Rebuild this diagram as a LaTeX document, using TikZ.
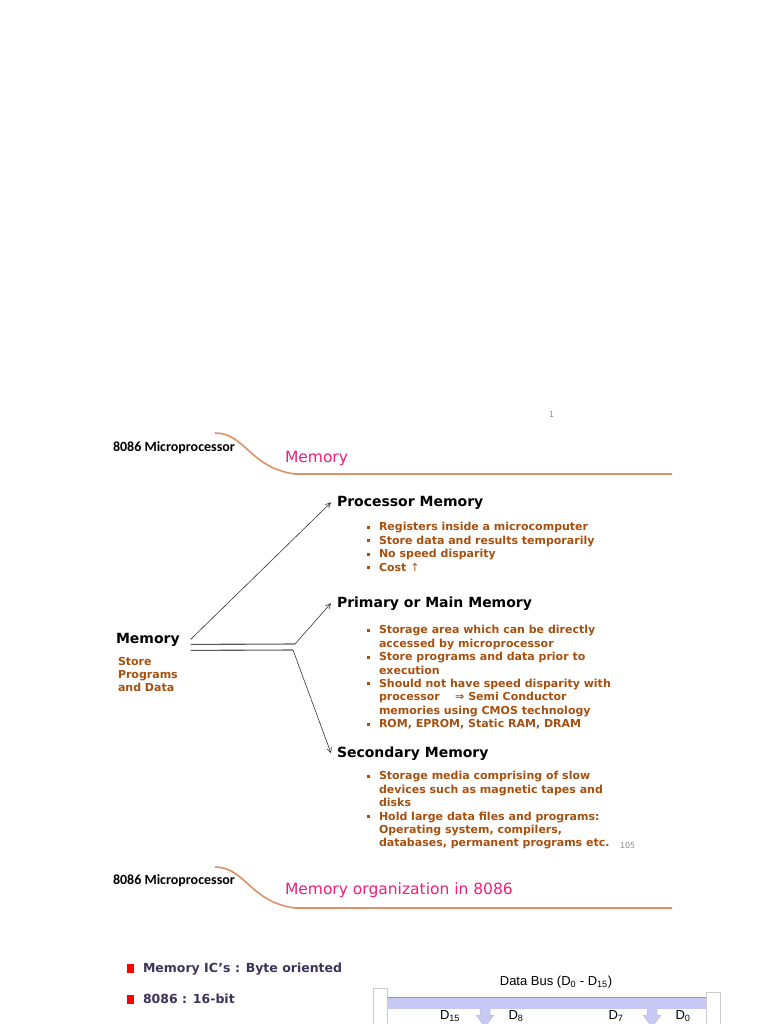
\documentclass[tikz,border=0pt]{standalone}
\usepackage{fontspec}
\setmainfont{DejaVu Sans}
\newfontfamily\slidefont{Carlito}
\newfontfamily\busfont{Liberation Sans}
\usetikzlibrary{positioning,arrows.meta}
\definecolor{memBrown}{RGB}{165,80,15}
\definecolor{memPink}{RGB}{240,30,120}
\definecolor{memOrange}{RGB}{222,145,100}
\definecolor{memSlate}{RGB}{60,50,90}
\definecolor{busFill}{RGB}{200,200,245}
\newcommand{\itm}{\makebox[12pt][l]{\raisebox{2pt}{\rule{3pt}{3pt}}}}
\newcommand{\cnt}{\hspace*{12pt}}

\begin{document}
\begin{tikzpicture}[x=1pt, y=-1pt,
    every node/.style={inner sep=0pt, outer sep=0pt},
    hdr/.style={font=\slidefont\bfseries\fontsize{14}{16}\selectfont, anchor=base west},
    ttl/.style={font=\fontsize{15.5}{18}\selectfont, text=memPink, anchor=base west},
    kind/.style={font=\bfseries\fontsize{14}{16}\selectfont, anchor=base west, inner xsep=6pt},
    pts/.style={font=\bfseries\fontsize{11}{13.4}\selectfont, text=memBrown, align=left, anchor=north west},
    pgno/.style={font=\fontsize{8}{9}\selectfont, text=black!45, anchor=base west},
    swoosh/.style={draw=memOrange, line width=1.6pt},
    arr/.style={-{Straight Barb[length=5pt,width=5pt]}, draw=black!80, line width=0.6pt},
    dbl/.style={draw=black!65, line width=1.1pt},
    redsq/.style={fill=red, draw=none},
    busbox/.style={fill=white, draw=black!20, line width=0.8pt},
    busarrow/.style={fill=busFill, draw=black!25, line width=0.5pt},
    buslbl/.style={font=\busfont\fontsize{13}{15}\selectfont}
]
\useasboundingbox (0,0) rectangle (768,1024);

% first slide
\node[pgno] (pgA) at (549,417) {1};
\node[hdr] (hdrA) at (113,451) {8086 Microprocessor};
\draw[swoosh] (215,433) .. controls (245,433) and (250,468) .. (295,474) -- (672,474);
\node[ttl] (ttlA) at (285,462) {Memory};

\node[kind, inner xsep=11pt] (memL) at (105,643) {Memory};
\node[pts] (memNote) at (118,657) {Store\\Programs\\and Data};

\node[kind] (pm) at (331,506) {Processor Memory};
\node[pts] (pmList) at (367,522.5) {\itm Registers inside a microcomputer\\
  \itm Store data and results temporarily\\
  \itm No speed disparity\\
  \itm Cost~{\mdseries ↑}};

\node[kind] (mm) at (331,607) {Primary or Main Memory};
\node[pts] (mmList) at (367,625.5) {\itm Storage area which can be directly\\
  \cnt accessed by microprocessor\\
  \itm Store programs and data prior to\\
  \cnt execution\\
  \itm Should not have speed disparity with\\
  \cnt processor ~~ ⇒ Semi Conductor\\
  \cnt memories using CMOS technology\\
  \itm ROM, EPROM, Static RAM, DRAM};

\node[kind] (sm) at (331,757) {Secondary Memory};
\node[pts] (smList) at (367,771.5) {\itm Storage media comprising of slow\\
  \cnt devices such as magnetic tapes and\\
  \cnt disks\\
  \itm Hold large data files and programs:\\
  \cnt Operating system, compilers,\\
  \cnt databases, permanent programs etc.};
\node[pgno] (pgB) at (620,848) {105};

\coordinate (jA) at (295,644);
\coordinate (jB) at (293,650);
\draw[arr] (memL.east) -- (pm.west);
\draw[dbl] ([yshift=-5pt]memL.east) -- (jA);
\draw[dbl] ([yshift=-11pt]memL.east) -- (jB);
\draw[arr] (jA) -- (mm.west);
\draw[arr] (jB) -- (sm.west);

% second slide
\node[hdr] (hdrB) at (113,884) {8086 Microprocessor};
\draw[swoosh] (215,867) .. controls (245,867) and (250,902) .. (295,908) -- (672,908);
\node[ttl] (ttlB) at (285,894) {Memory organization in 8086};

\fill[redsq] (127,964) rectangle (134,973);
\node[kind, font=\bfseries\fontsize{12.5}{14}\selectfont, text=memSlate, inner xsep=0pt] (icA) at (143,972) {Memory IC’s : Byte oriented};
\fill[redsq] (127,995) rectangle (134,1004);
\node[kind, font=\bfseries\fontsize{12.5}{14}\selectfont, text=memSlate, inner xsep=0pt] (icB) at (143,1003) {8086 : 16-bit};

\node[buslbl] (busLbl) at (556,982) {Data Bus (D\textsubscript{0} - D\textsubscript{15})};
\draw[busbox] (373,988) rectangle (387,1030);
\draw[busbox] (706,992) rectangle (720,1030);
\fill[busFill] (387,997) rectangle (706,1009);
\draw[black!40, line width=1pt] (387,997) -- (706,997);
\foreach \bx in {485,652}
  \draw[busarrow] (\bx-5,1009) -- (\bx-5,1015) -- (\bx-9,1015) -- (\bx,1027) -- (\bx+9,1015) -- (\bx+5,1015) -- (\bx+5,1009);
\node[buslbl] (dA) at (450,1016) {D\textsubscript{15}};
\node[buslbl] (dB) at (516,1016) {D\textsubscript{8}};
\node[buslbl] (dC) at (616,1016) {D\textsubscript{7}};
\node[buslbl] (dD) at (683,1016) {D\textsubscript{0}};
\end{tikzpicture}
\end{document}
